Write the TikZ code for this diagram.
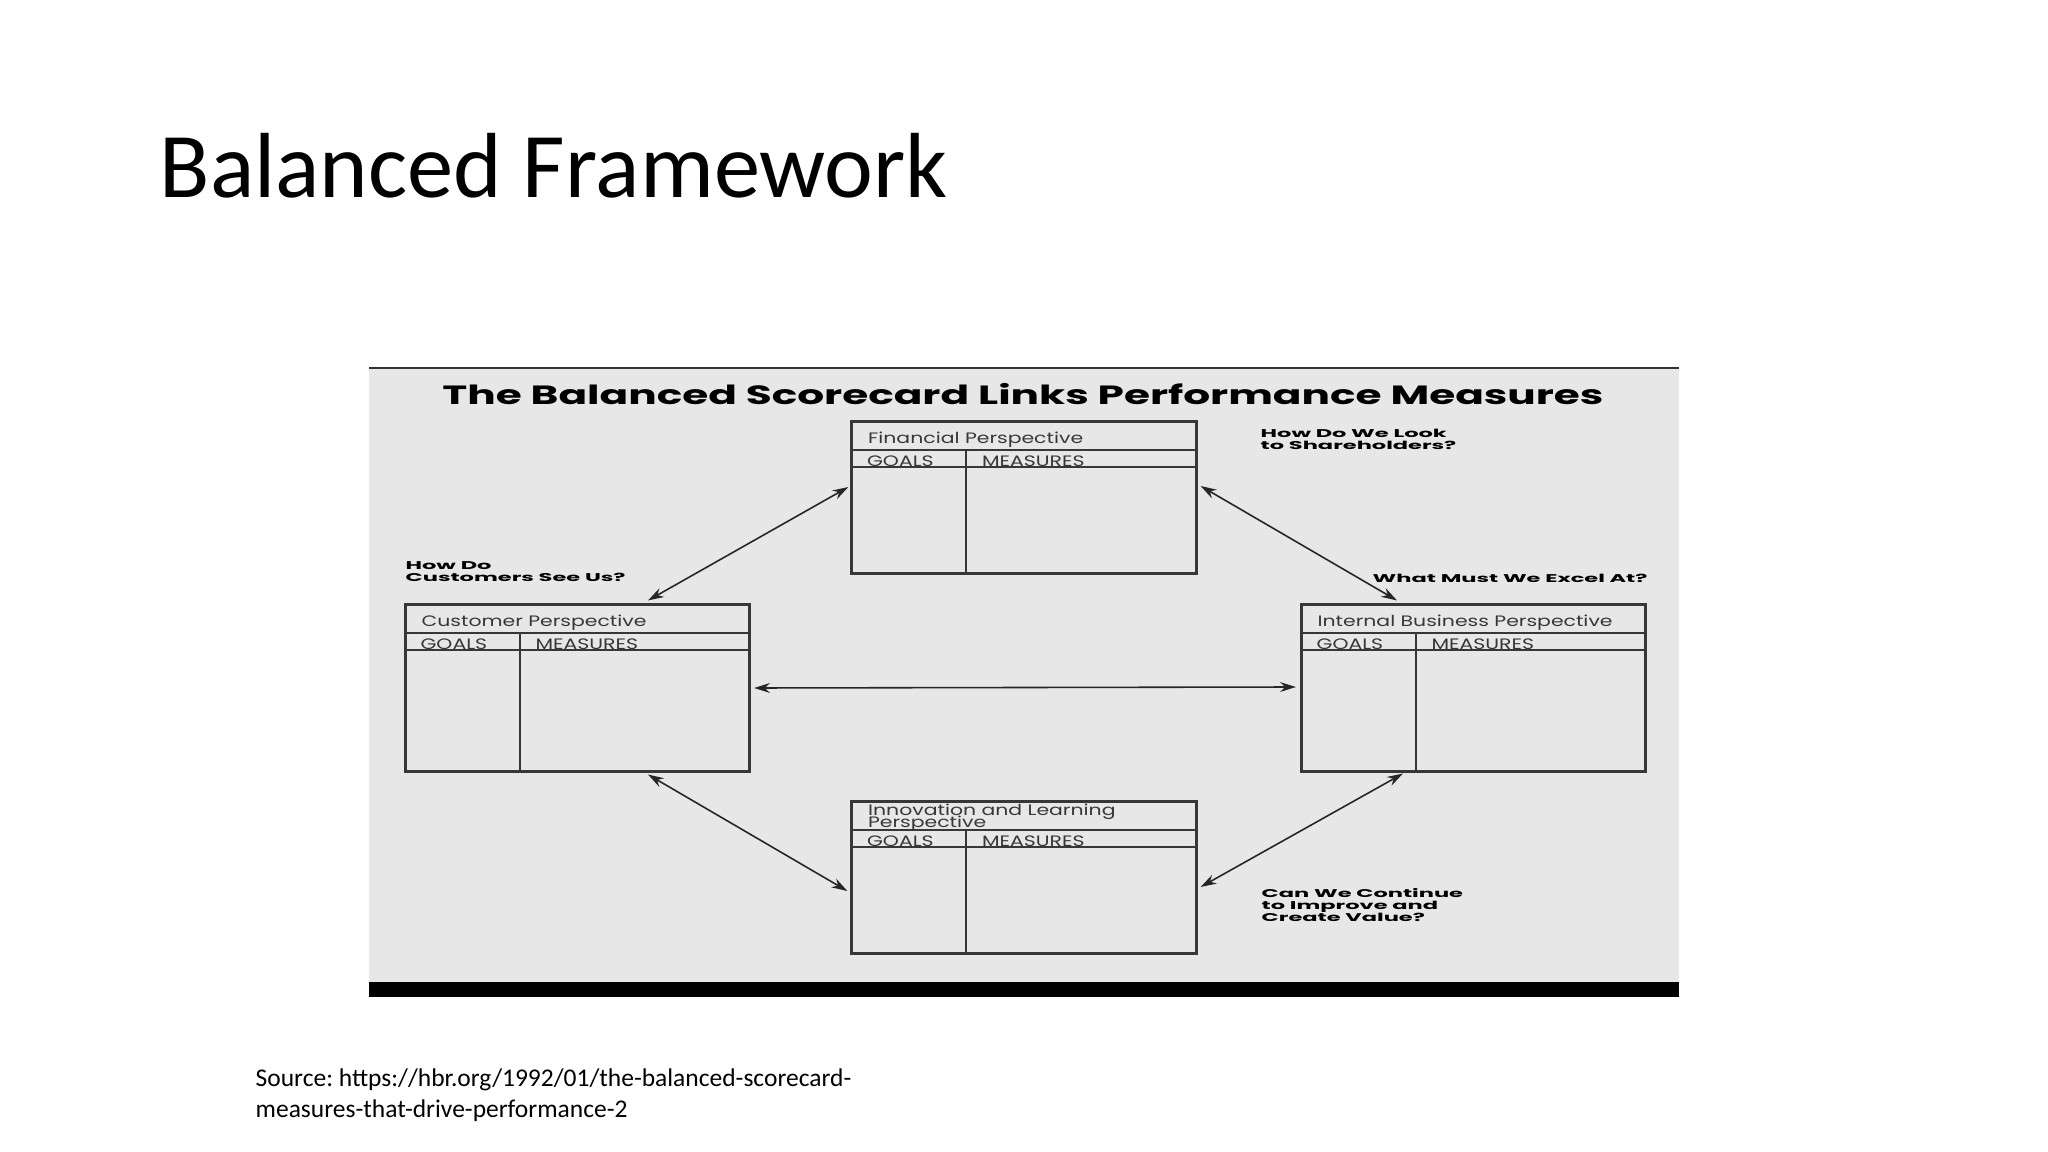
\documentclass[tikz,border=0pt]{standalone}
\usepackage{fontspec}
\setmainfont{Carlito}
\newfontfamily\hbrfont[FakeStretch=1.35]{Poppins}
\newfontfamily\hbrwide[FakeStretch=1.6]{Poppins}
\newfontfamily\hbrquery[FakeStretch=2.0]{Poppins}
\usetikzlibrary{arrows.meta, positioning, calc}
\definecolor{scangray}{RGB}{231,231,231}
\definecolor{scanink}{RGB}{55,55,55}
\setlength{\lineskiplimit}{-6pt}

\begin{document}
\begin{tikzpicture}[x=0.01cm, y=-0.01cm,
    perspbox/.style={rectangle, draw=scanink, line width=0.85pt, fill=scangray,
      minimum width=3.44cm, inner sep=0pt},
    boxrule/.style={draw=scanink, line width=0.55pt},
    boxtext/.style={anchor=west, align=left, inner sep=0pt, text=scanink,
      font=\hbrfont\fontsize{4.3}{3.4}\selectfont},
    question/.style={anchor=west, align=left, inner sep=0pt,
      font=\hbrquery\bfseries\fontsize{3.2}{3.4}\selectfont},
    link/.style={draw=black!85, line width=0.45pt,
      {Stealth[length=4.5pt,width=2.8pt]}-{Stealth[length=4.5pt,width=2.8pt]}}]
  \useasboundingbox (0,0) rectangle (2048,1152);
  % slide title
  \node[anchor=base west, inner sep=0pt, font=\fontsize{26.3}{30}\selectfont] (slidetitle) at (159,198) {Balanced Framework};
  % scanned exhibit
  \fill[scangray] (369,368) rectangle (1679,997);
  \draw[black!80, line width=0.7pt] (369,368) -- (1679,368);
  \fill[black] (369,982) rectangle (1679,997);
  \node[inner sep=0pt, font=\hbrwide\bfseries\fontsize{7.5}{8}\selectfont] (exhibit) at (1023,394) {The Balanced Scorecard Links Performance Measures};
  % the four perspectives
  \node[perspbox, minimum height=1.51cm] (fin) at (1024,497.5) {};
  \node[perspbox, minimum height=1.66cm] (cust) at (577.5,688) {};
  \node[perspbox, minimum height=1.66cm] (ibp) at (1473.5,688) {};
  \node[perspbox, minimum height=1.51cm] (inno) at (1024,877.5) {};
  \foreach \p/\dy/\ttl in {fin/19/Financial Perspective, cust/19/Customer Perspective,
      ibp/19/Internal Business Perspective, inno/17.5/{Innovation and Learning\\Perspective}} {
    \draw[boxrule] ($(\p.north west)+(0,30)$) -- ($(\p.north east)+(0,30)$);
    \draw[boxrule] ($(\p.north west)+(0,47)$) -- ($(\p.north east)+(0,47)$);
    \draw[boxrule] ($(\p.north west)+(116,30)$) -- ($(\p.south west)+(116,0)$);
    \node[boxtext] (\p-title) at ($(\p.north west)+(17,\dy)$) {\ttl};
    \node[boxtext] (\p-goals) at ($(\p.north west)+(16,40.5)$) {GOALS};
    \node[boxtext] (\p-meas) at ($(\p.north west)+(131,40.5)$) {MEASURES};
  }
  % questions
  \node[question] (q-fin) at (1260,439.5) {How Do We Look\\to Shareholders?};
  \node[question] (q-cust) at (405,572) {How Do\\Customers See Us?};
  \node[question] (q-ibp) at (1372,578) {What Must We Excel At?};
  \node[question] (q-inno) at (1261,905) {Can We Continue\\to Improve and\\Create Value?};
  % links
  \draw[link] ($(cust.north)+(70.5,-3)$) -- ($(fin.west)+(-2,-10.5)$);
  \draw[link] ($(fin.east)+(3,-11.5)$) -- ($(ibp.north)+(-76.5,-3)$);
  \draw[link] ($(cust.east)+(3,0)$) -- ($(ibp.west)+(-4,-1)$);
  \draw[link] ($(cust.south)+(70.5,2)$) -- ($(inno.west)+(-3,13.5)$);
  \draw[link] ($(ibp.south)+(-70.5,1)$) -- ($(inno.east)+(3,9.5)$);
  % source line
  \node[anchor=west, align=left, inner sep=0pt, font=\fontsize{7.25}{8.8}\selectfont] (source) at (255,1095.5) {Source:\ https://hbr.org/1992/01/the-balanced-scorecard-\\measures-that-drive-performance-2};
\end{tikzpicture}
\end{document}
